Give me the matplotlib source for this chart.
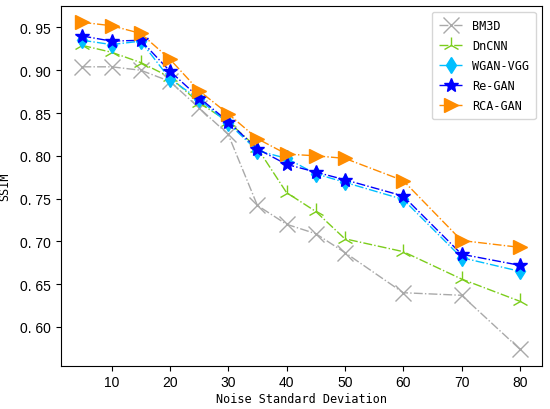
import matplotlib
matplotlib.use('Agg')
import matplotlib.pyplot as plt

plt.rcParams['font.family'] = ['DejaVu Sans Mono', 'DejaVu Sans']

sigma = [5, 10, 15, 20, 25, 30, 35, 40, 45, 50, 60, 70, 80]

bm3d    = [0.904, 0.904, 0.900, 0.887, 0.856, 0.825, 0.742, 0.720, 0.709, 0.687, 0.640, 0.637, 0.574]
dncnn   = [0.929, 0.921, 0.909, 0.892, 0.862, 0.840, 0.809, 0.757, 0.735, 0.703, 0.688, 0.656, 0.630]
wganvgg = [0.935, 0.930, 0.934, 0.890, 0.866, 0.838, 0.806, 0.797, 0.779, 0.769, 0.749, 0.681, 0.665]
regan   = [0.940, 0.934, 0.935, 0.899, 0.868, 0.840, 0.808, 0.790, 0.781, 0.772, 0.753, 0.685, 0.672]
rcagan  = [0.956, 0.952, 0.943, 0.913, 0.876, 0.849, 0.820, 0.802, 0.800, 0.797, 0.771, 0.701, 0.693]

fig = plt.figure(figsize=(5.5, 4.1), dpi=100)
ax = fig.add_axes([0.110, 0.106, 0.875, 0.877])

ax.plot(sigma, bm3d,    ls='-.', c='darkgray',    marker='x', ms=11, mew=1.0, lw=1.0, label='BM3D')
ax.plot(sigma, dncnn,   ls='-.', c='#7ccd1c',     marker='2', ms=12, mew=1.0, lw=1.0, label='DnCNN')
ax.plot(sigma, wganvgg, ls='-.', c='deepskyblue', marker='d', ms=8,  lw=1.0, label='WGAN-VGG')
ax.plot(sigma, regan,   ls='-.', c='blue',        marker='*', ms=10, lw=1.0, label='Re-GAN')
ax.plot(sigma, rcagan,  ls='-.', c='darkorange',  marker='>', ms=10, lw=1.0, label='RCA-GAN')

ax.set_xticks([10, 20, 30, 40, 50, 60, 70, 80])
ax.set_yticks([0.60, 0.65, 0.70, 0.75, 0.80, 0.85, 0.90, 0.95])
ax.set_yticklabels(['0. 60', '0. 65', '0. 70', '0. 75', '0. 80', '0. 85', '0. 90', '0. 95'])
for t in ax.get_xticklabels() + ax.get_yticklabels():
    t.set_family('Liberation Sans')
    t.set_fontsize(10)
ax.set_xlabel('Noise Standard Deviation', fontsize=8.5, labelpad=2)
ax.set_ylabel('SSIM', fontsize=8.5, labelpad=6)
ax.legend(loc='upper right', fontsize=8.5, borderpad=0.6, labelspacing=0.6)

plt.savefig('out.png', dpi=100)
